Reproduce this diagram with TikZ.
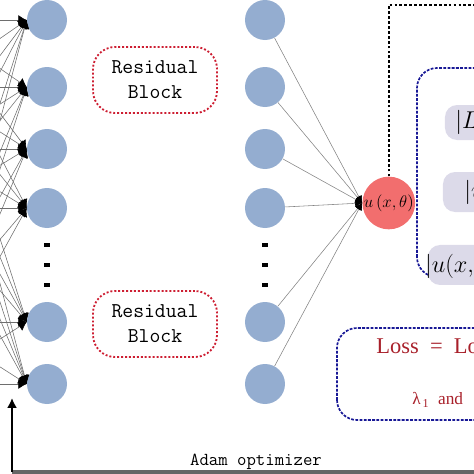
\documentclass[tikz,border=0pt]{standalone}
\usepackage{fontspec}
\newfontfamily\timesfont{Liberation Serif}
\usetikzlibrary{arrows.meta}
\definecolor{nblue}{RGB}{148,173,208}
\definecolor{outRed}{RGB}{242,110,110}
\definecolor{resRed}{RGB}{205,30,50}
\definecolor{lossBlue}{RGB}{25,25,150}
\definecolor{termGray}{RGB}{220,218,233}
\definecolor{lossText}{RGB}{168,32,42}
\definecolor{lineGray}{RGB}{110,110,110}

\begin{document}
\begin{tikzpicture}[
	neuron/.style={circle, fill=nblue, minimum size=1cm, inner sep=0pt},
	outnode/.style={circle, fill=outRed, minimum size=1.15cm, inner sep=0pt, font=\fontsize{12.5}{14}\selectfont},
	resblock/.style={draw=resRed, line width=1.3pt, dash pattern=on 1.4pt off 1.4pt, rounded corners=0.55cm,
		minimum width=3.1cm, minimum height=1.65cm, align=center, font=\ttfamily\fontsize{15}{17.8}\selectfont},
	lossbox/.style={draw=lossBlue, line width=1.2pt, dash pattern=on 2pt off 1pt, rounded corners=0.5cm},
	termbox/.style={fill=termGray, rounded corners=0.3cm},
	conn/.style={lineGray, thin, -{Latex[length=6pt, width=7pt, color=black]}},
	outconn/.style={lineGray!85, thin, -{Latex[length=5pt, width=5pt, color=black]}}
	]
	\path[use as bounding box, clip] (0,0) rectangle (11.85,11.85);

	% Hidden layers (and inputs outside the frame)
	\foreach \y [count=\i] in {11.35,9.675,8.125,6.65,3.8,2.25} {
		\coordinate (in\i) at (-1.75,\y);
		\node[neuron] (a\i) at (1.175,\y) {};
		\node[neuron] (b\i) at (6.625,\y) {};
	}

	% Dots between the neurons
	\foreach \y in {5.725,5.225,4.725} {
		\fill (1.11,\y-0.04) rectangle (1.24,\y+0.04);
		\fill (6.56,\y-0.04) rectangle (6.69,\y+0.04);
	}

	% Input connections
	\foreach \i in {1,...,6}
	\foreach \j in {1,...,6}
	\draw[conn] (in\i) -- (a\j.west);

	% Residual blocks
	\node[resblock] (res1) at (3.875,9.85) {Residual\\Block};
	\node[resblock] (res2) at (3.875,3.75) {Residual\\Block};

	% Output
	\node[outnode] (u) at (9.72,6.775) {$u\left(x,\theta\right)$};
	\foreach \i in {1,...,6}
	\draw[outconn] (b\i) -- (u.west);

	% Link to the loss
	\coordinate (lossin) at (12.5,11.725);
	\draw[line width=1.6pt, dash pattern=on 2pt off 1.5pt] (u.north) |- (lossin);

	% Loss terms
	\draw[lossbox] (10.425,4.925) rectangle (13.5,10.15);
	\fill[termbox] (11.125,8.35) rectangle (13,9.225);
	\fill[termbox] (11.075,6.55) rectangle (13,7.55);
	\fill[termbox] (10.7,4.725) rectangle (13,5.725);
	\node[right, inner sep=0pt] (t1) at (11.38,8.8) {\fontsize{17}{20}\selectfont$\Bigl|L$};
	\node[right, inner sep=0pt] (t2) at (11.6,7.05) {\fontsize{17}{20}\selectfont$\Bigl|u$};
	\node[right, inner sep=0pt] (t3) at (10.62,5.2) {\fontsize{17}{20}\selectfont$\Bigl|u\Bigl(x,\theta$};

	% Loss function
	\draw[lossbox] (8.425,1.35) rectangle (13.5,3.65);
	\node[right, inner sep=0pt, text=lossText, font=\timesfont\fontsize{16}{19}\selectfont] (loss) at (9.4,3.2) {Loss\enspace=\enspace Lo};
	\node[right, inner sep=0pt, text=lossText, font=\timesfont\fontsize{12.3}{15}\selectfont] (lam) at (10.3,1.85) {λ\textsubscript{\,1}\enspace and};

	% Optimizer feedback
	\coordinate (fb) at (12.5,0.05);
	\coordinate (corner) at (0.3,0.05);
	\coordinate (back) at (0.3,1.9);
	\draw[gray!80!black, line width=2.2pt] (fb) -- (corner);
	\draw[line width=1.3pt, -{Latex[length=7pt, width=7pt]}] (corner) -- (back);
	\node[font=\ttfamily\fontsize{13}{15}\selectfont] (adam) at (6.4,0.3) {Adam optimizer};
\end{tikzpicture}
\end{document}
